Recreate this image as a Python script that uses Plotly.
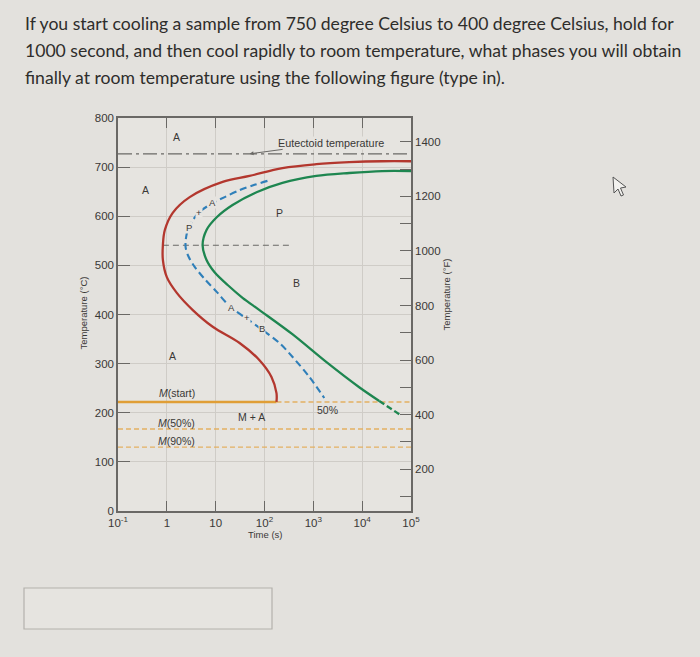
import math
import plotly.graph_objects as go

# ---------------- data ----------------
# Start of transformation (red), time in s, temperature in degC
start_t = [100000, 25600, 5430, 1150, 233, 49.4, 13.9, 2.94, 1.32, 0.91, 0.83,
           0.83, 1.0, 1.6, 3.4, 8.7, 30.9, 79, 139, 176, 176]
start_T = [712, 712, 710, 706, 698, 682, 670, 639, 607, 572, 541,
           511, 476, 444, 409, 375, 342, 307, 273, 240, 222]

# End of transformation (green)
end_t = [100000, 25600, 5430, 1150, 233, 68.7, 22.2, 10.5, 6.5, 5.4, 6.5,
         9.5, 17.6, 35.5, 79, 372, 1860, 8700, 22400]
end_T = [692, 692, 688, 682, 668, 649, 623, 598, 572, 541, 511,
         486, 460, 434, 409, 360, 303, 252, 224]
end_ext_t = [22400, 57500]
end_ext_T = [224, 197]

# 50 % completion (blue dashed)
half_t = [115, 62.5, 30.9, 15.3, 8.7, 4.7, 3.4, 2.69, 2.44, 2.44, 2.81, 3.72,
          5.97, 10.5, 19.3, 40.9, 86.9, 202, 372, 828, 1675]
half_T = [672, 664, 653, 639, 627, 609, 592, 572, 552, 535, 517, 497,
          472, 446, 417, 393, 370, 342, 314, 273, 230]

eutectoid_T = 727
nose_T = 541
nose_t = [0.83, 372]
ms_T = 222
ms_solid_t = [0.1, 176]
ms_dash_t = [176, 100000]
m50_T = 167
m90_T = 130
t_range = [0.1, 100000]

x_tickvals = [0.1, 1, 10, 100, 1000, 10000, 100000]
x_ticktext = ["10<sup>-1</sup>", "1", "10", "10<sup>2</sup>", "10<sup>3</sup>",
              "10<sup>4</sup>", "10<sup>5</sup>"]
yC_ticks = [0, 100, 200, 300, 400, 500, 600, 700, 800]
yF_ticks = [200, 400, 600, 800, 1000, 1200, 1400]

question = [
    "If you start cooling a sample from 750 degree Celsius to 400 degree Celsius, hold for",
    "1000 second, and then cool rapidly to room temperature, what phases you will obtain",
    "finally at room temperature using the following figure (type in).",
]

# ---------------- layout helpers ----------------
W, H = 700, 657
L, R, T, B = 118, 411, 118, 511


def px(x):
    return (x - L) / (R - L)


def py(y):
    return (B - y) / (B - T)


def lx(t):
    return math.log10(t)


RED = "#b3372e"
GREEN = "#1e8650"
BLUE = "#2f7fb9"
ORANGE = "#e09e36"
ORANGE_L = "#e3b062"
DARK = "#6a6865"
TXT = "#3a3836"
BG = "#e3e1dd"
PLOT_BG = "#e6e4e0"
GRID = "#cfccc7"
FONT = "Liberation Sans, Arial, sans-serif"

fig = go.Figure()

# martensite lines
fig.add_trace(go.Scatter(x=ms_solid_t, y=[ms_T, ms_T], mode="lines",
                         line=dict(color=ORANGE, width=2.4), hoverinfo="skip"))
fig.add_trace(go.Scatter(x=ms_dash_t, y=[ms_T, ms_T], mode="lines",
                         line=dict(color=ORANGE_L, width=1.4, dash="5px,3px"), hoverinfo="skip"))
for tv in (m50_T, m90_T):
    fig.add_trace(go.Scatter(x=t_range, y=[tv, tv], mode="lines",
                             line=dict(color=ORANGE_L, width=1.4, dash="5px,3px"), hoverinfo="skip"))

# eutectoid line
fig.add_trace(go.Scatter(x=t_range, y=[eutectoid_T, eutectoid_T], mode="lines",
                         line=dict(color=DARK, width=1.2, dash="14px,4px,3px,4px"), hoverinfo="skip"))
# nose line
fig.add_trace(go.Scatter(x=nose_t, y=[nose_T, nose_T], mode="lines",
                         line=dict(color=DARK, width=1.2, dash="6px,4px"), hoverinfo="skip"))

# transformation curves
fig.add_trace(go.Scatter(x=start_t, y=start_T, mode="lines", line_shape="spline",
                         line=dict(color=RED, width=2.3, smoothing=1.0), hoverinfo="skip"))
fig.add_trace(go.Scatter(x=end_t, y=end_T, mode="lines", line_shape="spline",
                         line=dict(color=GREEN, width=2.3, smoothing=0.9), hoverinfo="skip"))
fig.add_trace(go.Scatter(x=end_ext_t, y=end_ext_T, mode="lines",
                         line=dict(color=GREEN, width=2.3, dash="6px,3px"), hoverinfo="skip"))
fig.add_trace(go.Scatter(x=half_t, y=half_T, mode="lines", line_shape="spline",
                         line=dict(color=BLUE, width=2.1, dash="7px,4px", smoothing=0.9),
                         hoverinfo="skip"))

# secondary (degF) axis carrier
fig.add_trace(go.Scatter(x=[None], y=[None], yaxis="y2", showlegend=False))

ann = []


def lab(t, temp, text, size=10.5, bg=None):
    d = dict(x=lx(t), y=temp, xref="x", yref="y", text=text, showarrow=False,
             font=dict(family=FONT, size=size, color=TXT))
    if bg:
        d["bgcolor"] = bg
        d["borderpad"] = 0
    ann.append(d)


lab(1.6, 761, "A")
lab(0.37, 653, "A")
lab(202, 607, "P")
lab(450, 464, "B")
lab(1.32, 315, "A")
lab(1.6, 240, "<i>M</i>(start)")
lab(1.6, 179, "<i>M</i>(50%)")
lab(1.6, 142, "<i>M</i>(90%)")
lab(54, 192, "M + A")
lab(1930, 206, "50%")
# inline labels on the 50 % curve
lab(2.81, 578, "P", 9.5, PLOT_BG)
lab(4.5, 607, "+", 9.5, PLOT_BG)
lab(8.7, 627, "A", 9.5, PLOT_BG)
lab(21.2, 415, "A", 9.5, PLOT_BG)
lab(43, 393, "+", 9.5, PLOT_BG)
lab(87, 372, "B", 9.5, PLOT_BG)

# eutectoid annotation
ann.append(dict(x=lx(49.4), y=eutectoid_T, xref="x", yref="y", text="Eutectoid temperature",
                showarrow=True, arrowhead=2, arrowsize=0.8, arrowwidth=1, arrowcolor=DARK,
                ax=81, ay=-11, font=dict(family=FONT, size=10.8, color=TXT),
                bgcolor=PLOT_BG, borderpad=0))

# axis titles
ann.append(dict(x=px(75), y=py(313), xref="paper", yref="paper", text="Temperature (°C)",
                textangle=-90, showarrow=False, font=dict(family=FONT, size=9.5, color=TXT)))
ann.append(dict(x=px(453), y=py(295), xref="paper", yref="paper", text="Temperature (°F)",
                textangle=-90, showarrow=False, font=dict(family=FONT, size=9.5, color=TXT)))
ann.append(dict(x=px(265), y=py(542), xref="paper", yref="paper", text="Time (s)",
                showarrow=False, font=dict(family=FONT, size=9.5, color=TXT)))

# question text
for i, line in enumerate(question):
    ann.append(dict(x=px(23), y=py(23 + 27.3 * i), xref="paper", yref="paper", text=line,
                    xanchor="left", yanchor="middle", showarrow=False,
                    font=dict(family="Lato, Noto Sans, sans-serif", size=17.6, color="#2e2d2b")))

shapes = [
    dict(type="rect", xref="paper", yref="paper", x0=px(24), x1=px(272), y0=py(588), y1=py(629),
         line=dict(color="#b4b1ac", width=1.2), fillcolor="#e6e4e0", layer="below"),
    # mouse cursor
    dict(type="path", xref="paper", yref="paper",
         path="M {0},{1} L {2},{3} L {4},{5} L {6},{7} L {8},{9} L {10},{11} L {12},{13} Z".format(
             px(613), py(177), px(614), py(193), px(618), py(189), px(621), py(196),
             px(623.5), py(195), px(620.5), py(188), px(626), py(187)),
         line=dict(color="#555", width=1), fillcolor="#f2f1ee"),
]

TICKFONT = dict(family=FONT, size=11.5, color=TXT)

fig.update_layout(
    width=W, height=H,
    margin=dict(l=L, r=W - R, t=T, b=H - B),
    paper_bgcolor=BG, plot_bgcolor=PLOT_BG,
    showlegend=False,
    annotations=ann, shapes=shapes,
    font=dict(family=FONT, size=10.5, color=TXT),
    xaxis=dict(type="log", range=[-1, 5], tickvals=x_tickvals, ticktext=x_ticktext,
               ticks="inside", ticklen=10, tickcolor=DARK, tickwidth=1,
               showline=True, linecolor=DARK, linewidth=1.5, mirror="ticks",
               showgrid=True, gridcolor=GRID, gridwidth=1, zeroline=False,
               tickfont=TICKFONT),
    yaxis=dict(range=[0, 800], tickvals=yC_ticks, ticks="inside", ticklen=12,
               tickcolor=DARK, showline=True, linecolor=DARK, linewidth=1.5, mirror=True,
               showgrid=True, gridcolor=GRID, zeroline=False,
               tickfont=TICKFONT),
    yaxis2=dict(overlaying="y", side="right", range=[47, 1487], tickvals=yF_ticks,
                ticks="inside", ticklen=11, tickcolor=DARK, showline=True,
                linecolor=DARK, linewidth=1.5, showgrid=False, zeroline=False,
                minor=dict(dtick=100, ticks="inside", ticklen=11, tickcolor=DARK),
                tickfont=TICKFONT),
)

fig.write_html("out.html")
